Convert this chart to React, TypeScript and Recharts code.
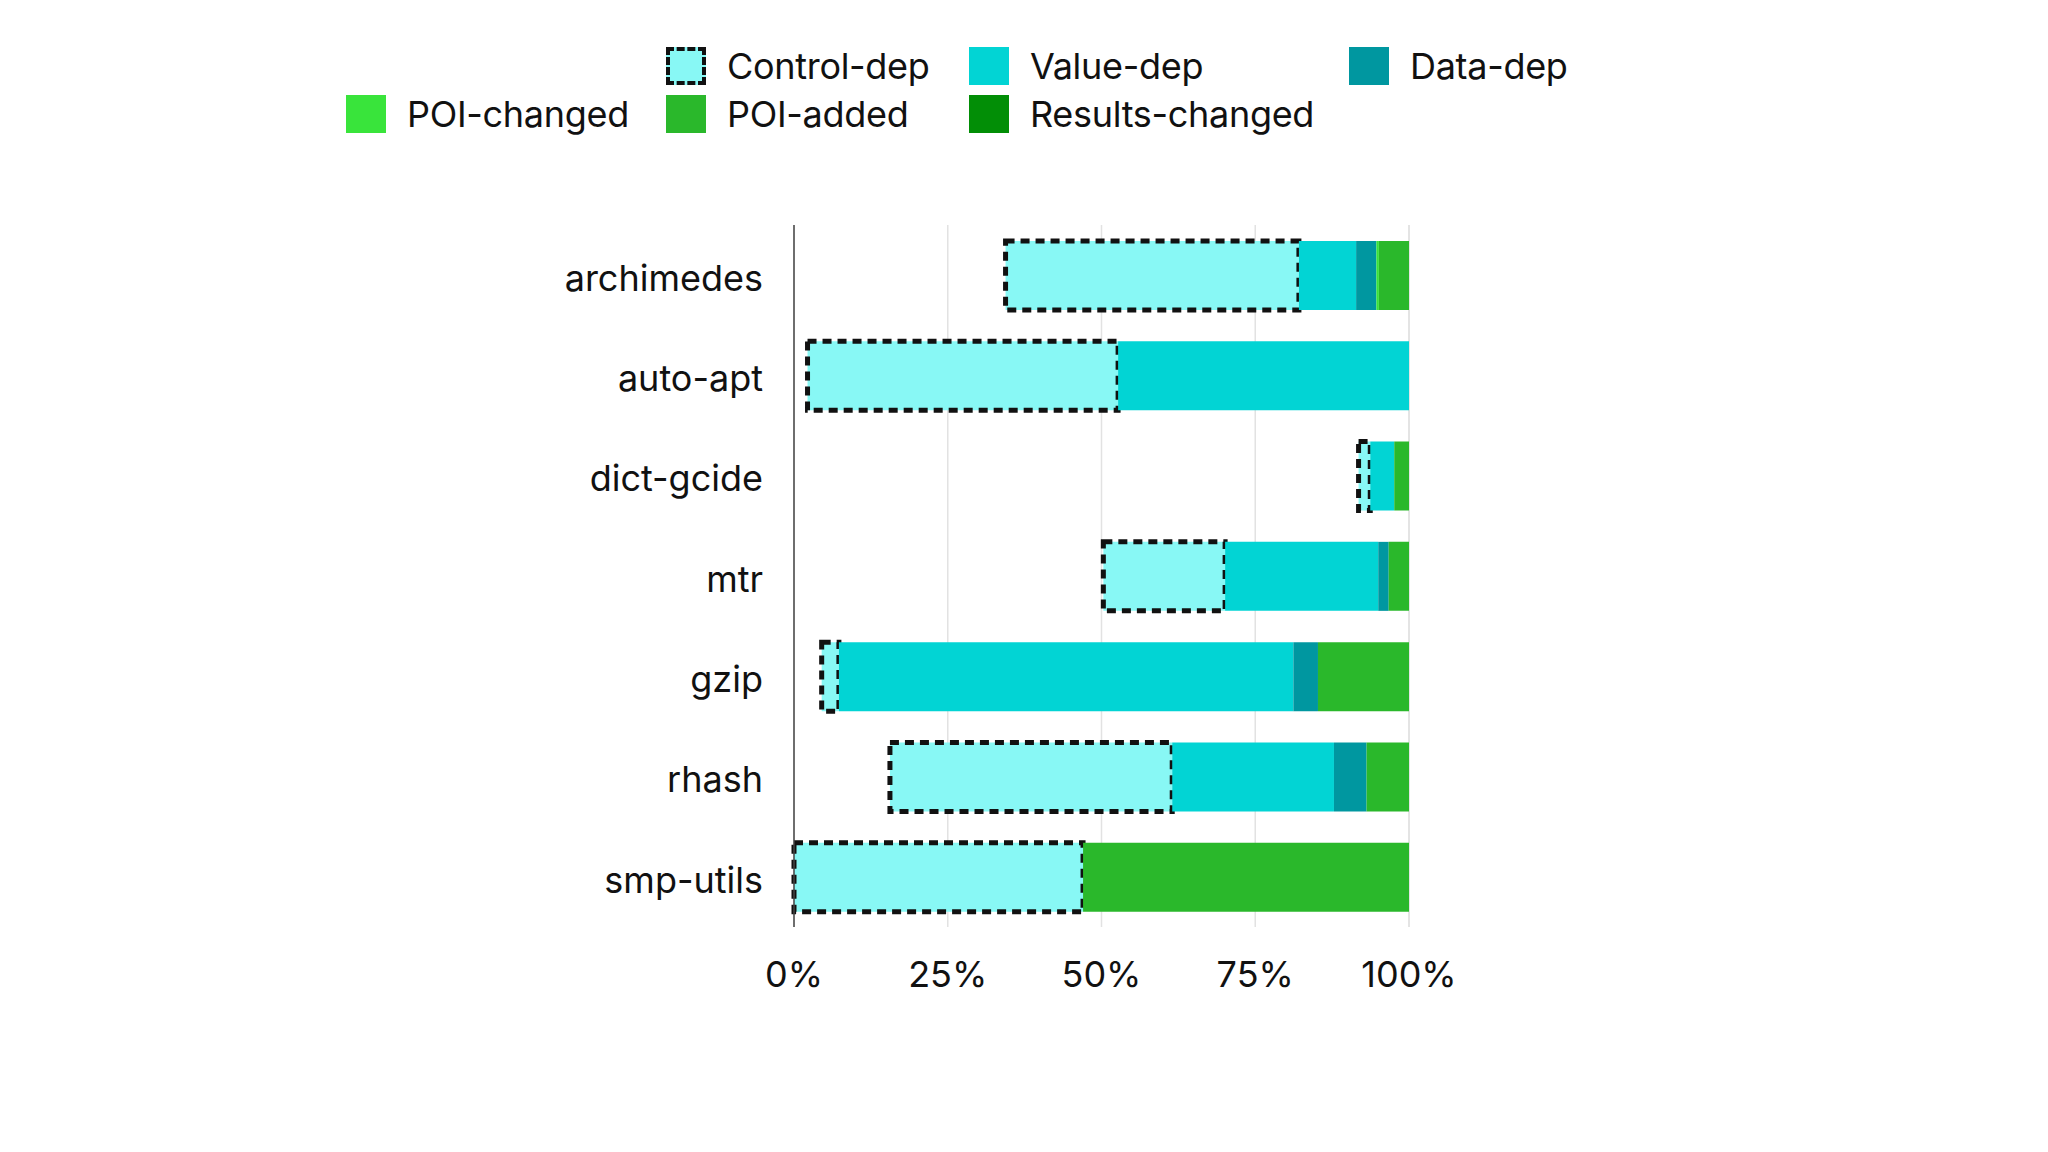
import React from 'react'
import { BarChart, Bar, XAxis, YAxis, CartesianGrid } from 'recharts'

const projects = ['archimedes', 'auto-apt', 'dict-gcide', 'mtr', 'gzip', 'rhash', 'smp-utils']

// blank lead-in so every bar ends at 100%
const offset = [34.4, 2.2, 91.8, 50.3, 4.5, 15.6, 0]
const controlDep = [47.7, 50.5, 1.9, 19.8, 2.8, 45.9, 47.0]
const valueDep = [9.3, 47.3, 3.9, 24.9, 73.9, 26.3, 0]
const dataDep = [3.3, 0, 0, 1.7, 4.0, 5.3, 0]
const poiChanged = [0.4, 0, 0, 0, 0, 0, 0]
const poiAdded = [4.9, 0, 2.4, 3.3, 14.8, 6.9, 53.0]
const resultsChanged = [0, 0, 0, 0, 0, 0, 0]

const xTicks = [0, 25, 50, 75, 100]

const FONT = 'Inter, "Noto Sans", sans-serif'

const series = [
  { key: 'controlDep', name: 'Control-dep', color: '#88f8f5', dashed: true },
  { key: 'valueDep', name: 'Value-dep', color: '#02d4d4' },
  { key: 'dataDep', name: 'Data-dep', color: '#0097a0' },
  { key: 'poiChanged', name: 'POI-changed', color: '#39e43b' },
  { key: 'poiAdded', name: 'POI-added', color: '#2ab82b' },
  { key: 'resultsChanged', name: 'Results-changed', color: '#028e06' },
]

const data = projects.map((p, i) => ({
  name: p,
  offset: offset[i],
  controlDep: controlDep[i],
  valueDep: valueDep[i],
  dataDep: dataDep[i],
  poiChanged: poiChanged[i],
  poiAdded: poiAdded[i],
  resultsChanged: resultsChanged[i],
}))

// legend grid: first cell is left empty (slot of the invisible offset series)
const legendOrder = [null, 'controlDep', 'valueDep', 'dataDep', 'poiChanged', 'poiAdded', 'resultsChanged']

function LegendBox() {
  return (
    <div
      style={{
        position: 'absolute',
        top: 39,
        left: 338,
        display: 'grid',
        gridTemplateColumns: '320px 303px 380px 300px',
        rowGap: 10,
        fontFamily: FONT,
        fontSize: 36,
        letterSpacing: -0.3,
        color: '#111',
      }}
    >
      {legendOrder.map((k, i) => {
        if (!k) return <div key={i} />
        const s = series.find((x) => x.key === k)!
        return (
          <div key={k} style={{ display: 'flex', alignItems: 'center', height: 38 }}>
            <span
              style={{
                display: 'inline-block',
                flexShrink: 0,
                width: 40,
                height: 38,
                boxSizing: 'border-box',
                background: s.color,
                border: s.dashed ? '4px dashed #111' : 'none',
                marginRight: 21,
              }}
            />
            <span style={{ whiteSpace: 'nowrap' }}>{s.name}</span>
          </div>
        )
      })}
    </div>
  )
}

export default function App() {
  return (
    <div style={{ width: 2032, height: 1136, background: '#fff', position: 'relative' }}>
      <LegendBox />
      <BarChart
        width={2032}
        height={1100}
        data={data}
        layout="vertical"
        margin={{ top: 217, right: 631, bottom: 121, left: 486 }}
      >
        <CartesianGrid horizontal={false} stroke="#e2e2e2" strokeWidth={1.5} />
        <XAxis
          type="number"
          domain={[0, 100]}
          ticks={xTicks}
          tickFormatter={(v) => `${v}%`}
          axisLine={false}
          tickLine={false}
          tickSize={0}
          tickMargin={34}
          height={60}
          tick={{ fill: '#111', fontSize: 36, fontFamily: FONT }}
        />
        <YAxis
          type="category"
          dataKey="name"
          width={300}
          axisLine={{ stroke: '#444', strokeWidth: 1.5 }}
          tickLine={false}
          tickSize={0}
          tickMargin={31}
          tick={{ fill: '#111', fontSize: 36, fontFamily: FONT, dy: 3 }}
        />
        <Bar dataKey="offset" stackId="a" fill="transparent" legendType="none" barSize={69} isAnimationActive={false} />
        {series.map((s) => (
          <Bar
            key={s.key}
            dataKey={s.key}
            name={s.name}
            stackId="a"
            fill={s.color}
            barSize={69}
            stroke={s.dashed ? '#111' : 'none'}
            strokeWidth={s.dashed ? 5 : 0}
            strokeDasharray={s.dashed ? '9 6' : undefined}
            isAnimationActive={false}
          />
        ))}
      </BarChart>
    </div>
  )
}
